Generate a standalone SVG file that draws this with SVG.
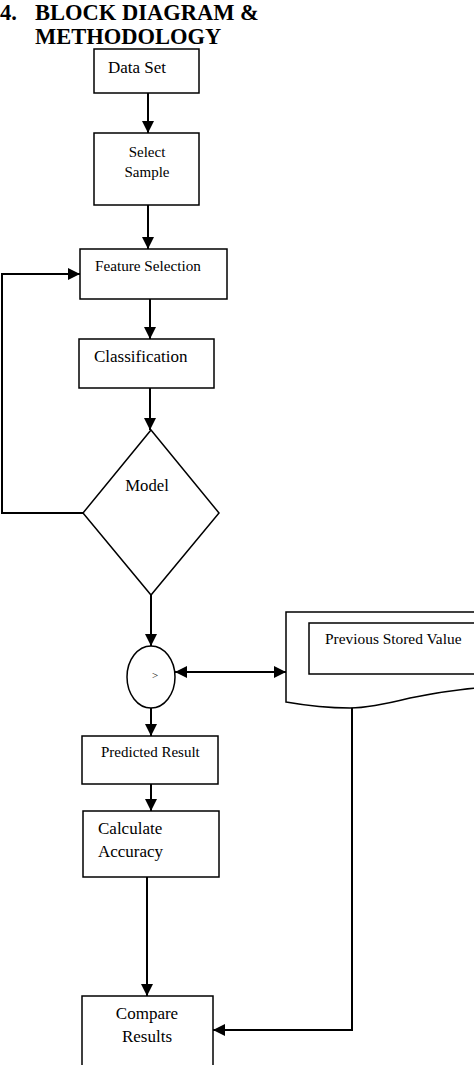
<svg xmlns="http://www.w3.org/2000/svg" width="474" height="1065" viewBox="0 0 474 1065">
<style>
text{font-family:"Liberation Serif","Times New Roman",serif;fill:#000}
.b{fill:#fff;stroke:#000;stroke-width:1.5}
.c{fill:none;stroke:#000;stroke-width:2}
.t{font-weight:bold;font-size:22.5px}
</style>
<defs>
<marker id="a" viewBox="0 0 10 10" refX="10" refY="5" markerWidth="6" markerHeight="6" orient="auto-start-reverse" markerUnits="strokeWidth">
<path d="M0,0 L10,5 L0,10 z" fill="#000"/>
</marker>
</defs>
<rect width="474" height="1065" fill="#fff"/>
<g id="title">
<text class="t" x="0" y="20">4.</text>
<text class="t" x="35" y="20">BLOCK DIAGRAM &amp;</text>
<text class="t" x="35" y="44">METHODOLOGY</text>
</g>
<g id="connectors">
<line class="c" x1="148" y1="93" x2="148" y2="133" marker-end="url(#a)"/>
<line class="c" x1="148" y1="205" x2="148" y2="249" marker-end="url(#a)"/>
<line class="c" x1="150" y1="299" x2="150" y2="339" marker-end="url(#a)"/>
<line class="c" x1="150" y1="388" x2="150" y2="430" marker-end="url(#a)"/>
<polyline class="c" points="83,513 2,513 2,274 80,274" marker-end="url(#a)"/>
<line class="c" x1="151" y1="595" x2="151" y2="646" marker-end="url(#a)"/>
<line class="c" x1="175" y1="672" x2="286" y2="672" marker-start="url(#a)" marker-end="url(#a)"/>
<line class="c" x1="151" y1="708" x2="151" y2="736" marker-end="url(#a)"/>
<line class="c" x1="151" y1="784" x2="151" y2="811" marker-end="url(#a)"/>
<line class="c" x1="147" y1="877" x2="147" y2="996" marker-end="url(#a)"/>
<polyline class="c" points="352,707 352,1030 213,1030" marker-end="url(#a)"/>
</g>
<g id="dataset">
<rect class="b" x="94" y="49" width="105" height="44"/>
<text x="108" y="73" font-size="17">Data Set</text>
</g>
<g id="select">
<rect class="b" x="94" y="133" width="105" height="72"/>
<text x="147" y="157" font-size="15" text-anchor="middle">Select</text>
<text x="147" y="177" font-size="15" text-anchor="middle">Sample</text>
</g>
<g id="feature">
<rect class="b" x="80" y="249" width="147" height="50"/>
<text x="95" y="271" font-size="15.2">Feature Selection</text>
</g>
<g id="classification">
<rect class="b" x="79" y="339" width="135" height="49"/>
<text x="94" y="362" font-size="17">Classification</text>
</g>
<g id="model">
<polygon class="b" points="151,430 219,513 151,595 83,513"/>
<text x="147" y="491" font-size="16.7" text-anchor="middle">Model</text>
</g>
<g id="compare-op">
<ellipse class="b" cx="151" cy="677" rx="24" ry="31"/>
<text x="155" y="679" font-size="11" text-anchor="middle">&gt;</text>
</g>
<g id="stored">
<path class="b" d="M286,612 L476,612 L476,688 Q450,690 410,698 Q370,708 350,708 Q320,708 286,702 Z"/>
<rect class="b" x="309" y="623" width="170" height="51"/>
<text x="325" y="644" font-size="15.4">Previous Stored Value</text>
</g>
<g id="predicted">
<rect class="b" x="82" y="736" width="136" height="48"/>
<text x="101" y="757" font-size="15">Predicted Result</text>
</g>
<g id="accuracy">
<rect class="b" x="83" y="811" width="136" height="66"/>
<text x="98" y="834" font-size="17">Calculate</text>
<text x="98" y="857" font-size="17">Accuracy</text>
</g>
<g id="compare">
<rect class="b" x="82" y="996" width="131" height="75"/>
<text x="147" y="1019" font-size="17" text-anchor="middle">Compare</text>
<text x="147" y="1042" font-size="17" text-anchor="middle">Results</text>
</g>
</svg>
